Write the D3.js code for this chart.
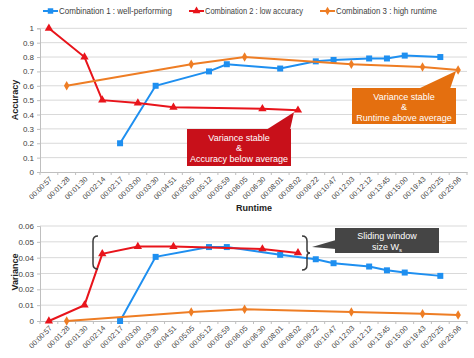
<!DOCTYPE html>
<html><head><meta charset="utf-8">
<script src="https://cdn.jsdelivr.net/npm/d3@7"></script>
<style>
body{margin:0;background:#fff;}
svg{display:block;font-family:"Liberation Sans",Arial,sans-serif;}
</style></head><body>
<svg id="c" width="474" height="358"></svg>
<script>
const categories = ["00:00:57","00:01:28","00:01:30","00:02:14","00:02:17","00:03:00","00:03:30","00:04:51","00:05:05","00:05:12","00:05:59","00:06:05","00:06:30","00:08:01","00:08:02","00:09:22","00:10:47","00:12:03","00:12:12","00:13:45","00:15:00","00:19:43","00:20:25","00:25:06"];
const seriesNames = ["Combination 1 : well-performing","Combination 2 : low accuracy","Combination 3 : high runtime"];
const accuracyBlue   = [null,null,null,null,0.20,null,0.60,null,null,0.70,0.75,null,null,0.72,null,0.77,0.78,null,0.79,0.79,0.81,null,0.80,null];
const accuracyRed    = [1.00,null,0.80,0.50,null,0.48,null,0.45,null,null,null,null,0.44,null,0.43,null,null,null,null,null,null,null,null,null];
const accuracyOrange = [null,0.60,null,null,null,null,null,null,0.75,null,null,0.80,null,null,null,null,null,0.75,null,null,null,0.73,null,0.71];
const varianceBlue   = [null,null,null,null,0,null,0.0405,null,null,0.0467,0.0467,null,null,0.0418,null,0.039,0.0365,null,0.0344,0.032,0.0306,null,0.0285,null];
const varianceRed    = [0,null,0.010,0.0424,null,0.047,null,0.047,null,null,null,null,0.0455,null,0.043,null,null,null,null,null,null,null,null,null];
const varianceOrange = [null,0,null,null,null,null,null,null,0.0057,null,null,0.0074,null,null,null,null,null,0.0057,null,null,null,0.0046,null,0.0038];
const accuracyTicks = [0,0.1,0.2,0.3,0.4,0.5,0.6,0.7,0.8,0.9,1];
const varianceTicks = [0,0.01,0.02,0.03,0.04,0.05,0.06];

const colors = ["#1e8ff0","#e8141b","#ee7d24"];
const svg = d3.select("#c");
const x = d3.scaleBand().domain(categories).range([40,467]).padding(0);
const cx = d => x(d) + x.bandwidth()/2;

function drawPanel(y, ticks, fmt, series, axisTitle, titleY) {
  const [y0] = y.range();
  const g = svg.append("g");
  g.selectAll("line.grid").data(ticks.filter(t=>t!==0)).join("line")
    .attr("x1",40).attr("x2",467).attr("y1",d=>y(d)).attr("y2",d=>y(d))
    .attr("stroke","#d9d9d9").attr("stroke-width",1);
  const ya = d3.axisLeft(y).tickValues(ticks).tickFormat(fmt).tickSize(3).tickPadding(3);
  const yg = g.append("g").attr("transform","translate(40,0)").call(ya);
  yg.select(".domain").attr("stroke","#bfbfbf");
  yg.selectAll(".tick line").attr("stroke","#bfbfbf");
  yg.selectAll("text").attr("font-size","8px").attr("fill","#404040");
  const xa = d3.axisBottom(x).tickSize(0).tickPadding(0);
  const xg = g.append("g").attr("transform",`translate(0,${y0})`).call(xa);
  xg.select(".domain").attr("stroke","#bfbfbf");
  xg.selectAll("text").attr("font-size","7.4px").attr("fill","#404040")
    .attr("text-anchor","end").attr("dy","0.3em")
    .attr("transform","translate(2,6) rotate(-45)");
  const bounds = categories.map(c=>x(c)).concat([x.range()[1]]);
  g.selectAll("line.bt").data(bounds).join("line")
    .attr("x1",d=>d).attr("x2",d=>d).attr("y1",y0).attr("y2",y0+3)
    .attr("stroke","#bfbfbf");
  g.append("text").attr("transform",`translate(18,${titleY}) rotate(-90)`)
    .attr("text-anchor","middle").attr("font-size","9px").attr("font-weight","bold")
    .attr("fill","#222").text(axisTitle);
  series.forEach((vals,i)=>{
    const pts = categories.map((c,k)=>({c, v: vals[k]})).filter(p=>p.v!==null);
    g.append("path").datum(pts)
      .attr("d", d3.line().x(p=>cx(p.c)).y(p=>y(p.v)))
      .attr("fill","none").attr("stroke",colors[i]).attr("stroke-width",2);
    const sym = [d3.symbolSquare, d3.symbolTriangle, d3.symbolDiamond][i];
    const size = [36, 30, 26][i];
    g.selectAll(null).data(pts).join("path")
      .attr("transform",p=>`translate(${cx(p.c)},${y(p.v)})`)
      .attr("d", d3.symbol().type(sym).size(size)())
      .attr("fill",colors[i]);
  });
  return g;
}

const yAcc = d3.scaleLinear().domain([0,1]).range([172,28.3]);
drawPanel(yAcc, accuracyTicks, d=>d3.format("")(d), [accuracyBlue, accuracyRed, accuracyOrange], "Accuracy", 100);
const yVar = d3.scaleLinear().domain([0,0.06]).range([321,226]);
drawPanel(yVar, varianceTicks, d=>d===0?"0":d3.format(".2f")(d), [varianceBlue, varianceRed, varianceOrange], "Variance", 272);

svg.append("text").attr("x",254).attr("y",211).attr("text-anchor","middle")
  .attr("font-size","9px").attr("font-weight","bold").attr("fill","#222").text("Runtime");

// legend
const legendX = [43, 189, 320];
const legendW = [113, 98, 101];
seriesNames.forEach((n,i)=>{
  const lg = svg.append("g").attr("transform",`translate(${legendX[i]},11)`);
  lg.append("line").attr("x1",0).attr("x2",15).attr("stroke",colors[i]).attr("stroke-width",2);
  const sym = [d3.symbolSquare, d3.symbolTriangle, d3.symbolDiamond][i];
  lg.append("path").attr("transform","translate(7.5,0)")
    .attr("d", d3.symbol().type(sym).size([30,26,22][i])()).attr("fill",colors[i]);
  lg.append("text").attr("x",16).attr("y",3).attr("font-size","8.2px").attr("fill","#404040")
    .attr("textLength",legendW[i]).attr("lengthAdjust","spacingAndGlyphs").text(n);
});

function callout(box, tip, base, fill, lines, lineYs, fs) {
  const [x0,y0,x1,y1] = box;
  svg.append("path").attr("d",
    `M${base[0][0]},${base[0][1]} L${tip[0]},${tip[1]} L${base[1][0]},${base[1][1]} Z`)
    .attr("fill",fill);
  svg.append("rect").attr("x",x0).attr("y",y0).attr("width",x1-x0).attr("height",y1-y0).attr("fill",fill);
  lines.forEach((l,k)=>{
    const t = svg.append("text").attr("x",(x0+x1)/2).attr("y",lineYs[k]).attr("text-anchor","middle")
      .attr("font-size",fs).attr("fill","#fff");
    if (Array.isArray(l)) {
      t.append("tspan").text(l[0]);
      t.append("tspan").attr("font-size","6px").attr("dy","2").text(l[1]);
    } else t.text(l);
  });
}
const redTipX = cx(categories[14]), redTipY = yAcc(0.43);
callout([187,129,291,166],[redTipX-4,redTipY+2],[[266,130],[290,130]],"#c8101a",
  ["Variance stable","&","Accuracy below average"],[141,151,162],"9px");
const orTipX = cx(categories[23]), orTipY = yAcc(0.71);
callout([352,88,456,124],[orTipX-2,orTipY+1],[[418,89],[450,89]],"#e46f0f",
  ["Variance stable","&","Runtime above average"],[100,110,121],"9px");
callout([335,228,439,253],[312,247],[[336,240],[336,249]],"#454545",
  ["Sliding window",["size W","s"]],[239,250],"9px");

svg.append("path").attr("d","M98,236 Q93,236 93,241 L93,264 Q93,269 98,269")
  .attr("fill","none").attr("stroke","#3a3a3a").attr("stroke-width",1.5);
svg.append("path").attr("d","M302,236 Q307,236 307,241 L307,250 Q307,253 310,253 Q307,253 307,256 L307,265 Q307,270 302,270")
  .attr("fill","none").attr("stroke","#3a3a3a").attr("stroke-width",1.5);
</script></body></html>
